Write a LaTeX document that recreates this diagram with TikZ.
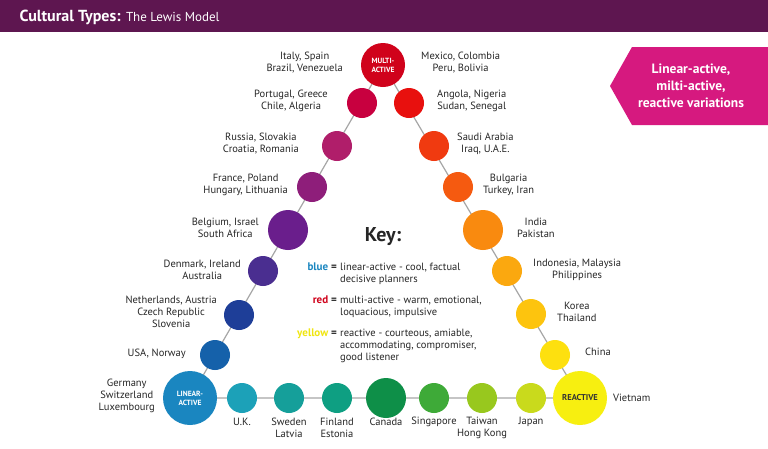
\documentclass[tikz,border=0pt]{standalone}
\usepackage{fontspec}
\setmainfont{PT Sans}
\begin{document}
\begin{tikzpicture}[x=1pt,y=-1pt,
  dot/.style={circle,minimum size=30pt,inner sep=0pt},
  mid/.style={circle,minimum size=40pt,inner sep=0pt},
  big/.style={circle,minimum size=54pt,inner sep=0pt},
  lab/.style={font=\fontsize{10.5}{12}\selectfont,align=center,text=black!85,inner sep=1pt},
  conn/.style={draw=gray!70,line width=1.2pt}]
\useasboundingbox (0,0) rectangle (768,448);
\fill[white] (0,0) rectangle (768,448);
\fill[fill={rgb,255:red,94;green,22;blue,80}] (0,0) rectangle (768,32);
\node[anchor=west,text=white,font=\bfseries\fontsize{16}{18}\selectfont] (title) at (16,17) {Cultural Types: {\mdseries\fontsize{13}{15}\selectfont The Lewis Model}};
\fill[fill={rgb,255:red,214;green,25;blue,127}] (768,47) -- (632,47) -- (610,86) -- (632,125) -- (768,125) -- cycle;
\node[text=white,font=\bfseries\fontsize{13.5}{17}\selectfont,align=center] (banner) at (691,86) {Linear-active,\\milti-active,\\reactive variations};
% nodes
\coordinate (pM) at (383,65); \coordinate (pL) at (190,398); \coordinate (pR) at (580,398);
\draw[conn] (pM) -- (pL) -- (pR) -- cycle;
\node[big,fill={rgb,255:red,208;green,2;blue,27},minimum size=44pt,text=white,font=\bfseries\fontsize{7.5}{9}\selectfont,align=center] (M) at (pM) {MULTI-\\ACTIVE};
\node[big,fill={rgb,255:red,26;green,134;blue,192},text=white,font=\bfseries\fontsize{7.5}{9}\selectfont,align=center] (L) at (pL) {LINEAR-\\ACTIVE};
\node[big,fill={rgb,255:red,247;green,239;blue,16},text=black!80,font=\bfseries\fontsize{8.5}{10}\selectfont] (R) at (pR) {REACTIVE};
\node[dot,fill={rgb,255:red,200;green,0;blue,63}] (l1) at (362,103) {};
\node[dot,fill={rgb,255:red,176;green,30;blue,106}] (l2) at (337,146) {};
\node[dot,fill={rgb,255:red,142;green,30;blue,122}] (l3) at (312,187) {};
\node[mid,fill={rgb,255:red,106;green,30;blue,140}] (l4) at (288,230) {};
\node[dot,fill={rgb,255:red,74;green,46;blue,144}] (l5) at (263,271) {};
\node[dot,fill={rgb,255:red,30;green,62;blue,152}] (l6) at (239,315) {};
\node[dot,fill={rgb,255:red,21;green,97;blue,170}] (l7) at (215,355) {};
\node[dot,fill={rgb,255:red,232;green,16;blue,14}] (r1) at (409,103) {};
\node[dot,fill={rgb,255:red,240;green,58;blue,16}] (r2) at (434,146) {};
\node[dot,fill={rgb,255:red,245;green,90;blue,16}] (r3) at (458,187) {};
\node[mid,fill={rgb,255:red,249;green,138;blue,15}] (r4) at (483,230) {};
\node[dot,fill={rgb,255:red,251;green,168;blue,15}] (r5) at (507,271) {};
\node[dot,fill={rgb,255:red,253;green,196;blue,14}] (r6) at (531,314) {};
\node[dot,fill={rgb,255:red,253;green,224;blue,15}] (r7) at (555,355) {};
\node[dot,fill={rgb,255:red,28;green,161;blue,184}] (b1) at (242,398) {};
\node[dot,fill={rgb,255:red,21;green,159;blue,154}] (b2) at (289,398) {};
\node[dot,fill={rgb,255:red,14;green,159;blue,130}] (b3) at (337,398) {};
\node[mid,fill={rgb,255:red,14;green,143;blue,72}] (b4) at (386,398) {};
\node[dot,fill={rgb,255:red,62;green,170;blue,56}] (b5) at (434,398) {};
\node[dot,fill={rgb,255:red,152;green,200;blue,30}] (b6) at (482,398) {};
\node[dot,fill={rgb,255:red,201;green,218;blue,28}] (b7) at (531,398) {};
% labels
\node[lab,anchor=east] (tM1) at (344,63) {Italy, Spain\\Brazil, Venezuela};
\node[lab,anchor=east] (tl1) at (329,101) {Portugal, Greece\\Chile, Algeria};
\node[lab,anchor=east] (tl2) at (300,144) {Russia, Slovakia\\Croatia, Romania};
\node[lab,anchor=east] (tl3) at (289,185) {France, Poland\\Hungary, Lithuania};
\node[lab,anchor=east] (tl4) at (260,228) {Belgium, Israel\\South Africa};
\node[lab,anchor=east] (tl5) at (242,270) {Denmark, Ireland\\Australia};
\node[lab,anchor=east] (tl6) at (218,312) {Netherlands, Austria\\Czech Republic\\Slovenia};
\node[lab,anchor=east] (tl7) at (187,354) {USA, Norway};
\node[lab,anchor=east] (tL) at (156,396) {Germany\\Switzerland\\Luxembourg};
\node[lab,anchor=west] (tM2) at (420,63) {Mexico, Colombia\\Peru, Bolivia};
\node[lab,anchor=west] (tr1) at (436,101) {Angola, Nigeria\\Sudan, Senegal};
\node[lab,anchor=west] (tr2) at (456,144) {Saudi Arabia\\Iraq, U.A.E.};
\node[lab,anchor=west] (tr3) at (482,185) {Bulgaria\\Turkey, Iran};
\node[lab,anchor=west] (tr4) at (516,228) {India\\Pakistan};
\node[lab,anchor=west] (tr5) at (532,270) {Indonesia, Malaysia\\Philippines};
\node[lab,anchor=west] (tr6) at (556,312) {Korea\\Thailand};
\node[lab,anchor=west] (tr7) at (584,352) {China};
\node[lab,anchor=west] (tR) at (612,398) {Vietnam};
\node[lab] (tb1) at (242,422) {U.K.};
\node[lab] (tb2) at (289,428) {Sweden\\Latvia};
\node[lab] (tb3) at (337,428) {Finland\\Estonia};
\node[lab] (tb4) at (386,422) {Canada};
\node[lab] (tb5) at (434,422) {Singapore};
\node[lab] (tb6) at (482,428) {Taiwan\\Hong Kong};
\node[lab] (tb7) at (531,422) {Japan};
% key
\node[font=\bfseries\fontsize{20}{22}\selectfont,text=black!85] (key) at (383,237) {Key:};
\node[anchor=north east,font=\bfseries\fontsize{11}{12}\selectfont,text={rgb,255:red,26;green,134;blue,192},inner sep=1pt] (kb) at (338,262) {blue \textcolor{black!85}{=}};
\node[anchor=north west,lab,align=left] (kbt) at (339,262) {linear-active - cool, factual\\decisive planners};
\node[anchor=north east,font=\bfseries\fontsize{11}{12}\selectfont,text={rgb,255:red,208;green,2;blue,27},inner sep=1pt] (kr) at (338,295) {red \textcolor{black!85}{=}};
\node[anchor=north west,lab,align=left] (krt) at (339,295) {multi-active - warm, emotional,\\loquacious, impulsive};
\node[anchor=north east,font=\bfseries\fontsize{11}{12}\selectfont,text={rgb,255:red,240;green,230;blue,16},inner sep=1pt] (ky) at (338,328) {yellow \textcolor{black!85}{=}};
\node[anchor=north west,lab,align=left] (kyt) at (339,328) {reactive - courteous, amiable,\\accommodating, compromiser,\\good listener};
\end{tikzpicture}
\end{document}
